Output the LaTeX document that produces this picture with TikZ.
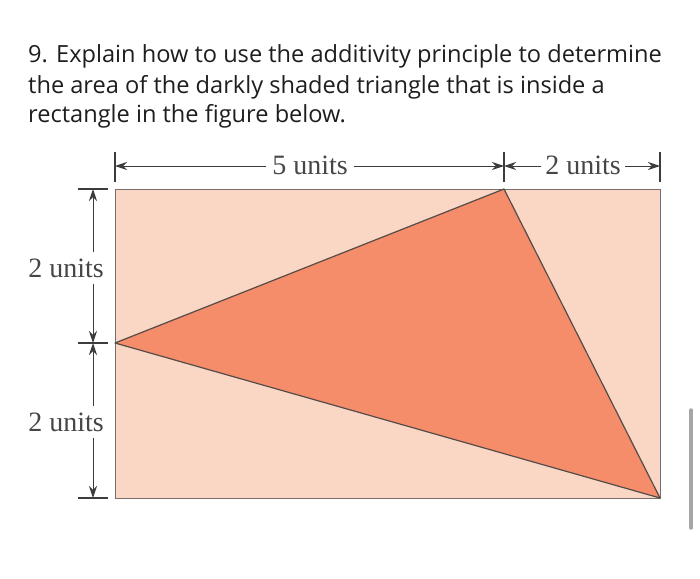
\documentclass[tikz,border=0pt]{standalone}
\usepackage{fontspec}
\setmainfont{Liberation Serif}
\newfontfamily\titlefont{Open Sans}
\usetikzlibrary{arrows.meta}
\definecolor{lightfill}{RGB}{250,214,196}
\definecolor{darkfill}{RGB}{245,141,106}
\definecolor{edgecol}{RGB}{85,75,72}
\definecolor{dimcol}{RGB}{60,60,60}
\definecolor{labcol}{RGB}{70,70,70}
\definecolor{titlecol}{RGB}{30,30,30}
\begin{document}
\begin{tikzpicture}[x=1pt,y=-1pt,
  titleline/.style={anchor=base west, inner sep=0pt, font=\titlefont\fontsize{23.6}{28}\selectfont, text=titlecol},
  dimlabel/.style={inner sep=0pt, font=\fontsize{28}{32}\selectfont, text=labcol},
  dimline/.style={draw=dimcol, line width=1pt, -{Stealth[length=12pt,width=8pt]}},
  tickline/.style={draw=dimcol, line width=1.1pt}]
\useasboundingbox (0,0) rectangle (700,578);
\fill[white] (0,0) rectangle (700,578);
% title
\node[titleline] (t1) at (28,63) {9. Explain how to use the additivity principle to determine};
\node[titleline] (t2) at (28,93) {the area of the darkly shaded triangle that is inside a};
\node[titleline] (t3) at (28,122) {rectangle in the figure below.};
% rectangle and triangle
\coordinate (A) at (115,189);
\coordinate (C) at (660,498);
\coordinate (L) at (115,343);
\coordinate (T) at (504,189);
\draw[fill=lightfill, draw=edgecol!80, line width=1pt] (A) rectangle (C);
\draw[fill=darkfill, draw=edgecol, line width=1.2pt, line join=round] (L) -- (T) -- (C) -- cycle;
% top dimensions
\coordinate (tx1) at (115,166);
\coordinate (tx2) at (504,166);
\coordinate (tx3) at (660,166);
\draw[tickline] (115,152) -- (115,182);
\draw[tickline] (504,152) -- (504,182);
\draw[tickline] (660,152) -- (660,182);
\node[dimlabel] (five) at (310,165) {5 units};
\node[dimlabel] (twoT) at (583,165) {2 units};
\draw[dimline] ([xshift=-6pt]five.west |- tx1) -- (tx1);
\draw[dimline] ([xshift=6pt]five.east |- tx1) -- (tx2);
\draw[dimline] ([xshift=-4pt]twoT.west |- tx2) -- (tx2);
\draw[dimline] ([xshift=4pt]twoT.east |- tx3) -- (tx3);
% left dimensions
\coordinate (ly1) at (93,189);
\coordinate (ly2) at (93,343);
\coordinate (ly3) at (93,498);
\draw[tickline] (78,189) -- (108,189);
\draw[tickline] (78,343) -- (108,343);
\draw[tickline] (78,498) -- (108,498);
\node[dimlabel] (twoA) at (66,268) {2 units};
\node[dimlabel] (twoB) at (66,422) {2 units};
\draw[dimline] ([yshift=6pt]twoA.north -| ly1) -- (ly1);
\draw[dimline] ([yshift=-6pt]twoA.south -| ly2) -- (ly2);
\draw[dimline] ([yshift=6pt]twoB.north -| ly2) -- (ly2);
\draw[dimline] ([yshift=-6pt]twoB.south -| ly3) -- (ly3);
% scroll indicator
\draw[gray!70, line width=3.5pt, line cap=round] (691,410) -- (691,528);
\end{tikzpicture}
\end{document}
